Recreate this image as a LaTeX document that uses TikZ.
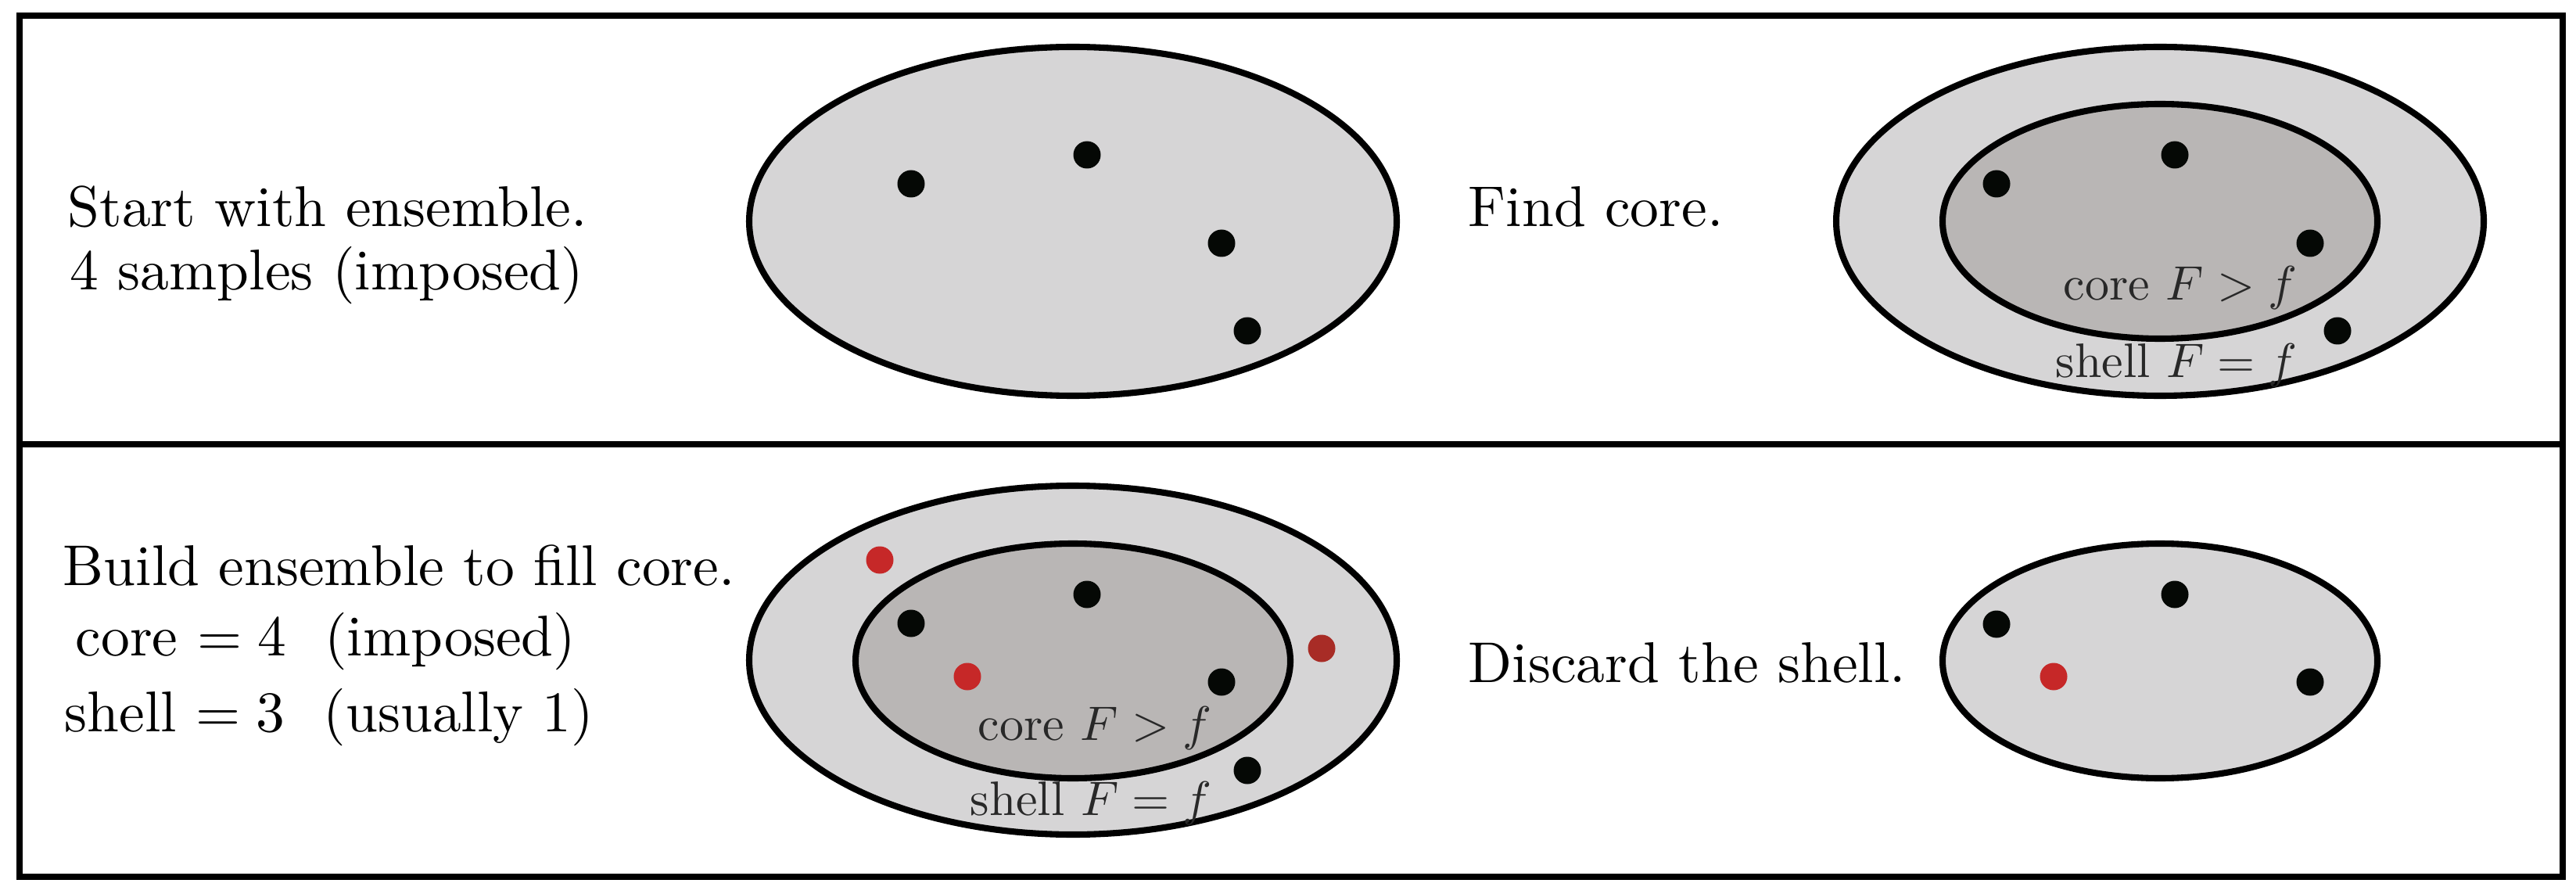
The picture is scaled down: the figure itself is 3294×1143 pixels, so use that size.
\documentclass[tikz,border=0pt]{standalone}
\usepackage{tikz}
\usepackage{graphicx}
\definecolor{shellgray}{RGB}{214,213,214}
\definecolor{coregray}{RGB}{185,182,181}
\definecolor{dotred}{RGB}{198,40,40}
\definecolor{dotbrown}{RGB}{168,44,38}
\definecolor{dotblack}{RGB}{5,8,5}
\definecolor{labelgray}{RGB}{40,40,40}
\tikzset{
  frameline/.style={line width=2.2pt,draw=black},
  ringline/.style={line width=2.3pt,draw=black},
  bigtext/.style={inner sep=0pt,anchor=base west},
  lbltext/.style={inner sep=0pt,anchor=base west,text=labelgray},
}
\newcommand{\bigtxt}[1]{\scalebox{2.09}{\fontsize{10}{12}\selectfont #1}}
\newcommand{\lbltxt}[1]{\scalebox{1.76}{\fontsize{10}{12}\selectfont #1}}
\newcommand{\sampledot}[2]{\fill[#1] (#2) circle[radius=17.5];}
\begin{document}
\begin{tikzpicture}[x=0.01cm,y=-0.01cm]
\useasboundingbox (0,0) rectangle (3294,1143);
% frame
\draw[frameline] (25,20) rectangle (3277,1121);
\draw[frameline] (25,568) -- (3277,568);

% ---- top-left: ensemble
\filldraw[ringline,fill=shellgray] (1372,283) ellipse[x radius=414,y radius=223];
\sampledot{dotblack}{1165,235}
\sampledot{dotblack}{1390,198}
\sampledot{dotblack}{1562,311}
\sampledot{dotblack}{1595,423}
\node[bigtext] (t1a) at (86,290) {\bigtxt{Start with ensemble.}};
\node[bigtext] (t1b) at (89,370) {\bigtxt{4 samples (imposed)}};

% ---- top-right: find core
\filldraw[ringline,fill=shellgray] (2762,283) ellipse[x radius=414,y radius=223];
\filldraw[ringline,fill=coregray] (2762,283) ellipse[x radius=278,y radius=150];
\sampledot{dotblack}{2553,235}
\sampledot{dotblack}{2781,198}
\sampledot{dotblack}{2954,311}
\sampledot{dotblack}{2989,423}
\node[bigtext] (t2) at (1877,290) {\bigtxt{Find core.}};
\node[lbltext] (c2) at (2638,384) {\lbltxt{core $F>f$}};
\node[lbltext] (s2) at (2628,482) {\lbltxt{shell $F=f$}};

% ---- bottom-left: build ensemble
\filldraw[ringline,fill=shellgray] (1372,844) ellipse[x radius=414,y radius=223];
\filldraw[ringline,fill=coregray] (1372,845) ellipse[x radius=278,y radius=150];
\sampledot{dotred}{1125,716}
\sampledot{dotblack}{1165,797}
\sampledot{dotblack}{1390,760}
\sampledot{dotred}{1237,865}
\sampledot{dotbrown}{1690,829}
\sampledot{dotblack}{1562,872}
\sampledot{dotblack}{1595,985}
\node[bigtext] (t3a) at (80,748) {\bigtxt{Build ensemble to fill core.}};
\node[bigtext] (t3b) at (96,838) {\bigtxt{core $=4$~~(imposed)}};
\node[bigtext] (t3c) at (82,935) {\bigtxt{shell $=3$~~(usually 1)}};
\node[lbltext] (c3) at (1250,946) {\lbltxt{core $F>f$}};
\node[lbltext] (s3) at (1240,1042) {\lbltxt{shell $F=f$}};

% ---- bottom-right: discard shell
\filldraw[ringline,fill=shellgray] (2762,845) ellipse[x radius=278,y radius=150];
\sampledot{dotblack}{2553,798}
\sampledot{dotblack}{2781,760}
\sampledot{dotred}{2626,865}
\sampledot{dotblack}{2954,872}
\node[bigtext] (t4) at (1877,872) {\bigtxt{Discard the shell.}};
\end{tikzpicture}
\end{document}
